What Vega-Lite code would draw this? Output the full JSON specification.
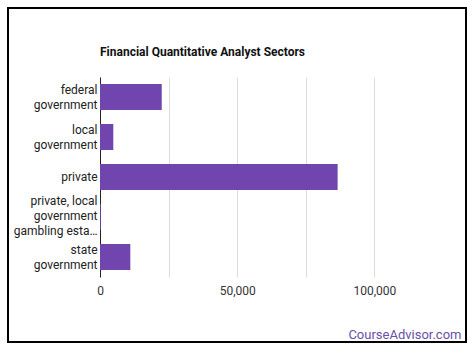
{
  "$schema": "https://vega.github.io/schema/vega-lite/v6.json",
  "width": 343,
  "height": 200,
  "autosize": {"type": "none"},
  "padding": {"left": 100, "top": 77, "right": 33, "bottom": 80},
  "background": "white",
  "config": {
    "font": "Roboto",
    "view": {"stroke": null}
  },
  "title": {
    "text": "Financial Quantitative Analyst Sectors",
    "anchor": "start",
    "frame": "group",
    "fontSize": 12,
    "fontWeight": "bold",
    "color": "#111",
    "offset": -52
  },
  "layer": [
    {
      "data": {"values": [{}]},
      "mark": {"type": "rect", "fill": null, "stroke": "#000", "strokeWidth": 2},
      "encoding": {
        "x": {"value": -92},
        "x2": {"value": 366},
        "y": {"value": -69},
        "y2": {"value": 265}
      }
    },
    {
      "data": {
        "values": [
          {"sector": "federal government", "count": 22500},
          {"sector": "local government", "count": 4850},
          {"sector": "private", "count": 86600},
          {"sector": "private, local government gambling establishments", "count": 300},
          {"sector": "state government", "count": 11050}
        ]
      },
      "mark": {"type": "bar", "color": "#7046ae"},
      "encoding": {
        "y": {
          "field": "sector",
          "type": "nominal",
          "sort": null,
          "scale": {"paddingInner": 0.35, "paddingOuter": 0.175},
          "axis": {
            "title": null,
            "ticks": false,
            "domain": true,
            "domainColor": "#222",
            "domainWidth": 1,
            "labelFontSize": 12,
            "labelColor": "#222",
            "labelPadding": 3,
            "labelLineHeight": 15,
            "labelLimit": 200,
            "labelBaseline": "middle",
            "labelOffset": {
              "condition": [
                {"test": "datum.value == 'private'", "value": 0},
                {"test": "datum.value == 'private, local government gambling establishments'", "value": -16}
              ],
              "value": -7
            },
            "labelExpr": "datum.value == 'private, local government gambling establishments' ? ['private, local', 'government', 'gambling esta…'] : split(datum.value, ' ')"
          }
        },
        "x": {
          "field": "count",
          "type": "quantitative",
          "scale": {"domain": [0, 125000], "nice": false},
          "axis": {
            "values": [0, 25000, 50000, 75000, 100000],
            "labelExpr": "datum.value % 50000 == 0 ? format(datum.value, ',') : ''",
            "labelFlush": false,
            "grid": true,
            "gridColor": "#dcdcdc",
            "domain": false,
            "ticks": false,
            "labelFontSize": 12,
            "labelColor": "#333",
            "labelPadding": 8,
            "title": "CourseAdvisor.com",
            "titleX": 361,
            "titleY": 57,
            "titleAlign": "right",
            "titleBaseline": "middle",
            "titleFontSize": 13,
            "titleFontWeight": "normal",
            "titleColor": "#6b4fa6"
          }
        }
      }
    }
  ]
}
